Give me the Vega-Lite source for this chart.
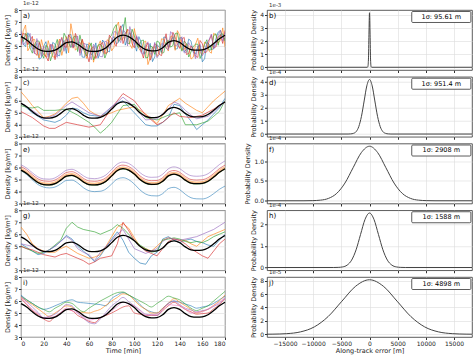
{
"$schema": "https://vega.github.io/schema/vega-lite/v6.json",
"padding": {"left": 4, "top": 0, "right": 2, "bottom": 0},
"config": {
  "font": "DejaVu Sans",
  "view": {"stroke": "#333", "strokeWidth": 0.8},
  "axis": {"labelFontSize": 6, "titleFontSize": 6.5, "titleFontWeight": "normal", "grid": true, "gridColor": "#dcdcdc", "gridWidth": 0.6, "domain": false, "tickColor": "#333", "tickSize": 2.5, "labelColor": "#222", "titleColor": "#222", "labelPadding": 1, "titlePadding": 1},
  "axisY": {"titlePadding": 3},
  "title": {"fontSize": 5.5, "fontWeight": "normal", "anchor": "start", "frame": "group", "offset": 1, "dx": 2, "color": "#333"}
},
"datasets": {
"blk": [{"t":0,"v":5.78},{"t":5,"v":5.5},{"t":10,"v":5.1},{"t":15,"v":4.75},{"t":20,"v":4.58},{"t":25,"v":4.55},{"t":30,"v":4.65},{"t":35,"v":4.95},{"t":40,"v":5.28},{"t":45,"v":5.35},{"t":50,"v":5.15},{"t":55,"v":4.8},{"t":60,"v":4.58},{"t":65,"v":4.55},{"t":70,"v":4.62},{"t":75,"v":4.85},{"t":80,"v":5.3},{"t":85,"v":5.75},{"t":90,"v":5.9},{"t":95,"v":5.78},{"t":100,"v":5.45},{"t":105,"v":5.0},{"t":110,"v":4.7},{"t":115,"v":4.6},{"t":120,"v":4.62},{"t":125,"v":4.85},{"t":130,"v":5.3},{"t":135,"v":5.45},{"t":140,"v":5.3},{"t":145,"v":4.95},{"t":150,"v":4.7},{"t":155,"v":4.65},{"t":160,"v":4.68},{"t":165,"v":4.85},{"t":170,"v":5.2},{"t":175,"v":5.6},{"t":180,"v":5.9}],
"a": [
{"t":0,"B":6.08,"O":5.38,"G":5.88,"R":5.08,"P":6.28},
{"t":4,"B":4.95,"O":6.75,"G":6.05,"R":5.95,"P":5.35},
{"t":8,"B":5.75,"O":4.95,"G":4.85,"R":5.45,"P":6.05},
{"t":12,"B":4.75,"O":5.55,"G":5.15,"R":4.45,"P":4.35},
{"t":16,"B":3.90,"O":4.00,"G":5.40,"R":5.30,"P":4.80},
{"t":20,"B":4.98,"O":4.78,"G":3.98,"R":4.28,"P":4.98},
{"t":24,"B":4.25,"O":5.45,"G":4.85,"R":3.75,"P":4.05},
{"t":28,"B":5.30,"O":4.10,"G":4.40,"R":5.10,"P":4.80},
{"t":32,"B":4.25,"O":5.05,"G":5.55,"R":4.65,"P":4.05},
{"t":36,"B":5.12,"O":4.22,"G":4.72,"R":5.72,"P":5.62},
{"t":40,"B":4.38,"O":5.78,"G":5.68,"R":4.88,"P":5.58},
{"t":44,"B":5.96,"O":6.86,"G":4.86,"R":5.66,"P":4.96},
{"t":48,"B":5.05,"O":4.65,"G":5.85,"R":6.05,"P":5.35},
{"t":52,"B":5.30,"O":5.10,"G":5.90,"R":4.40,"P":4.20},
{"t":56,"B":4.05,"O":4.45,"G":4.55,"R":4.95,"P":5.25},
{"t":60,"B":5.08,"O":5.28,"G":4.88,"R":3.68,"P":4.38},
{"t":64,"B":4.45,"O":3.65,"G":3.85,"R":4.95,"P":5.15},
{"t":68,"B":3.98,"O":4.98,"G":5.08,"R":4.38,"P":4.28},
{"t":72,"B":5.50,"O":4.50,"G":4.90,"R":5.30,"P":4.10},
{"t":76,"B":4.62,"O":5.52,"G":4.52,"R":4.42,"P":5.32},
{"t":80,"B":5.50,"O":4.60,"G":5.90,"R":5.60,"P":5.20},
{"t":84,"B":5.18,"O":6.58,"G":6.78,"R":4.98,"P":6.18},
{"t":88,"B":6.48,"O":5.48,"G":5.58,"R":6.68,"P":5.28},
{"t":92,"B":5.07,"O":6.07,"G":7.37,"R":5.77,"P":6.17},
{"t":96,"B":6.12,"O":5.12,"G":5.22,"R":6.22,"P":6.62},
{"t":100,"B":5.25,"O":6.45,"G":5.85,"R":4.85,"P":5.05},
{"t":104,"B":5.78,"O":4.78,"G":4.88,"R":5.28,"P":5.28},
{"t":108,"B":4.40,"O":5.30,"G":5.50,"R":4.00,"P":4.30},
{"t":112,"B":4.75,"O":3.45,"G":4.05,"R":5.25,"P":5.35},
{"t":116,"B":3.70,"O":4.90,"G":4.90,"R":4.30,"P":4.40},
{"t":120,"B":5.12,"O":4.12,"G":5.42,"R":5.02,"P":4.02},
{"t":124,"B":4.50,"O":5.60,"G":4.40,"R":4.20,"P":5.20},
{"t":128,"B":5.72,"O":4.92,"G":5.32,"R":6.02,"P":4.82},
{"t":132,"B":5.30,"O":5.80,"G":4.90,"R":5.20,"P":6.20},
{"t":136,"B":4.74,"O":4.64,"G":6.04,"R":5.74,"P":5.04},
{"t":140,"B":5.70,"O":5.90,"G":5.20,"R":4.80,"P":5.50},
{"t":144,"B":4.52,"O":4.72,"G":5.42,"R":5.72,"P":4.42},
{"t":148,"B":5.58,"O":4.98,"G":4.08,"R":4.38,"P":5.28},
{"t":152,"B":4.47,"O":4.07,"G":4.97,"R":4.77,"P":4.57},
{"t":156,"B":4.95,"O":5.65,"G":5.15,"R":4.05,"P":4.95},
{"t":160,"B":3.68,"O":4.28,"G":4.48,"R":5.18,"P":4.18},
{"t":164,"B":5.32,"O":5.12,"G":5.52,"R":4.52,"P":5.22},
{"t":168,"B":4.70,"O":4.40,"G":4.70,"R":5.90,"P":6.00},
{"t":172,"B":5.62,"O":5.92,"G":6.02,"R":4.92,"P":5.12},
{"t":176,"B":6.30,"O":5.50,"G":6.00,"R":5.90,"P":6.30},
{"t":180,"B":5.60,"O":4.90,"G":5.40,"R":6.30,"P":6.10},
{"t":2,"B":5.17,"O":6.27,"G":5.37,"R":6.07,"P":5.07},
{"t":6,"B":6.10,"O":4.60,"G":5.80,"R":5.10,"P":5.70},
{"t":10,"B":4.80,"O":5.50,"G":4.40,"R":5.80,"P":4.70},
{"t":14,"B":5.22,"O":4.52,"G":5.42,"R":4.22,"P":5.62},
{"t":18,"B":4.03,"O":5.53,"G":4.43,"R":4.83,"P":4.13},
{"t":22,"B":5.36,"O":4.06,"G":5.06,"R":4.16,"P":4.76},
{"t":26,"B":4.37,"O":4.77,"G":3.77,"R":5.07,"P":5.17},
{"t":30,"B":5.16,"O":4.06,"G":4.96,"R":3.86,"P":4.36},
{"t":34,"B":4.18,"O":5.58,"G":4.48,"R":5.18,"P":5.38},
{"t":38,"B":5.46,"O":4.96,"G":6.06,"R":4.96,"P":4.56},
{"t":42,"B":5.93,"O":4.43,"G":5.23,"R":5.93,"P":5.53},
{"t":46,"B":4.92,"O":5.82,"G":5.72,"R":4.82,"P":4.92},
{"t":50,"B":5.34,"O":4.84,"G":4.54,"R":5.54,"P":5.84},
{"t":54,"B":4.08,"O":5.48,"G":5.08,"R":5.58,"P":4.68},
{"t":58,"B":5.16,"O":3.96,"G":4.16,"R":4.36,"P":5.06},
{"t":62,"B":4.26,"O":4.96,"G":5.26,"R":4.76,"P":3.86},
{"t":66,"B":5.26,"O":4.46,"G":4.26,"R":3.96,"P":4.86},
{"t":70,"B":4.53,"O":5.43,"G":5.13,"R":5.13,"P":4.13},
{"t":74,"B":5.20,"O":4.30,"G":4.00,"R":4.40,"P":5.40},
{"t":78,"B":4.50,"O":5.40,"G":5.70,"R":5.90,"P":4.80},
{"t":82,"B":5.79,"O":4.89,"G":6.49,"R":5.29,"P":6.19},
{"t":86,"B":5.30,"O":7.00,"G":5.40,"R":6.10,"P":5.60},
{"t":90,"B":6.80,"O":5.60,"G":6.20,"R":5.20,"P":6.30},
{"t":94,"B":5.61,"O":6.31,"G":5.21,"R":6.41,"P":5.01},
{"t":98,"B":5.70,"O":4.80,"G":6.40,"R":5.20,"P":5.90},
{"t":102,"B":4.57,"O":5.47,"G":5.07,"R":5.77,"P":5.87},
{"t":106,"B":5.33,"O":4.53,"G":5.43,"R":4.63,"P":4.43},
{"t":110,"B":4.41,"O":5.41,"G":4.01,"R":4.91,"P":5.11},
{"t":114,"B":5.22,"O":4.02,"G":5.02,"R":3.82,"P":4.32},
{"t":118,"B":4.10,"O":4.90,"G":4.30,"R":5.20,"P":5.30},
{"t":122,"B":4.90,"O":4.50,"G":5.30,"R":4.30,"P":4.30},
{"t":126,"B":5.75,"O":5.55,"G":4.45,"R":5.25,"P":5.15},
{"t":130,"B":4.88,"O":4.58,"G":5.48,"R":4.78,"P":4.68},
{"t":134,"B":5.74,"O":5.84,"G":5.04,"R":6.14,"P":5.94},
{"t":138,"B":4.78,"O":6.28,"G":6.08,"R":5.18,"P":5.08},
{"t":142,"B":5.67,"O":4.67,"G":4.57,"R":5.57,"P":5.77},
{"t":146,"B":4.69,"O":5.19,"G":5.19,"R":4.29,"P":4.49},
{"t":150,"B":5.41,"O":3.91,"G":4.51,"R":5.01,"P":4.91},
{"t":154,"B":4.35,"O":5.15,"G":5.15,"R":4.15,"P":3.95},
{"t":158,"B":5.06,"O":4.46,"G":3.96,"R":5.46,"P":5.16},
{"t":162,"B":3.94,"O":5.34,"G":5.14,"R":4.44,"P":4.54},
{"t":166,"B":5.15,"O":4.55,"G":4.65,"R":5.45,"P":5.55},
{"t":170,"B":4.76,"O":6.06,"G":5.86,"R":4.86,"P":4.76},
{"t":174,"B":6.16,"O":5.26,"G":5.06,"R":5.76,"P":5.86},
{"t":178,"B":5.71,"O":6.51,"G":6.01,"R":5.21,"P":5.41}],
"c": [
{"t":0,"B":5.8,"O":6.75,"G":5.6,"R":5.1,"P":5.8},
{"t":5,"B":5.4,"O":6.2,"G":5.45,"R":4.85,"P":5.5},
{"t":10,"B":5.0,"O":5.6,"G":5.4,"R":4.6,"P":5.2},
{"t":15,"B":4.7,"O":5.1,"G":5.5,"R":4.25,"P":4.85},
{"t":20,"B":4.4,"O":4.6,"G":5.2,"R":3.9,"P":4.5},
{"t":25,"B":4.3,"O":4.7,"G":5.2,"R":3.7,"P":4.65},
{"t":30,"B":4.2,"O":4.9,"G":5.2,"R":3.7,"P":4.8},
{"t":35,"B":4.4,"O":5.3,"G":5.25,"R":3.95,"P":5.2},
{"t":40,"B":4.8,"O":5.8,"G":5.3,"R":4.2,"P":5.6},
{"t":45,"B":5.4,"O":6.2,"G":5.05,"R":4.1,"P":5.9},
{"t":50,"B":5.3,"O":6.3,"G":4.8,"R":4.0,"P":5.6},
{"t":55,"B":5.0,"O":5.8,"G":4.5,"R":3.9,"P":5.3},
{"t":60,"B":4.8,"O":5.2,"G":4.2,"R":3.8,"P":5.0},
{"t":65,"B":4.75,"O":4.9,"G":3.8,"R":3.9,"P":4.85},
{"t":70,"B":4.7,"O":4.7,"G":3.3,"R":4.0,"P":4.7},
{"t":75,"B":5.0,"O":4.85,"G":3.7,"R":4.7,"P":5.1},
{"t":80,"B":5.5,"O":5.0,"G":4.2,"R":5.4,"P":5.5},
{"t":85,"B":5.8,"O":5.2,"G":4.9,"R":6.0,"P":5.9},
{"t":90,"B":6.0,"O":5.3,"G":5.6,"R":6.6,"P":6.3},
{"t":95,"B":5.5,"O":5.4,"G":5.65,"R":6.3,"P":5.9},
{"t":100,"B":5.0,"O":5.5,"G":5.7,"R":6.0,"P":5.5},
{"t":105,"B":4.5,"O":5.2,"G":5.1,"R":5.4,"P":4.95},
{"t":110,"B":4.0,"O":4.9,"G":4.6,"R":4.8,"P":4.4},
{"t":115,"B":3.9,"O":4.5,"G":4.5,"R":4.4,"P":4.45},
{"t":120,"B":3.9,"O":4.1,"G":4.4,"R":4.0,"P":4.5},
{"t":125,"B":4.2,"O":4.8,"G":4.6,"R":4.2,"P":4.9},
{"t":130,"B":4.6,"O":5.6,"G":4.8,"R":4.6,"P":5.3},
{"t":135,"B":5.7,"O":5.9,"G":4.9,"R":5.0,"P":5.9},
{"t":140,"B":5.6,"O":6.2,"G":5.0,"R":4.7,"P":5.7},
{"t":145,"B":4.9,"O":5.8,"G":4.0,"R":4.65,"P":5.2},
{"t":150,"B":4.3,"O":5.5,"G":4.0,"R":4.6,"P":4.8},
{"t":155,"B":3.6,"O":5.2,"G":4.0,"R":4.7,"P":4.5},
{"t":160,"B":4.0,"O":5.0,"G":4.15,"R":4.8,"P":4.6},
{"t":165,"B":4.4,"O":5.5,"G":4.3,"R":5.05,"P":4.7},
{"t":170,"B":4.9,"O":6.0,"G":4.7,"R":5.3,"P":5.1},
{"t":175,"B":5.4,"O":6.4,"G":5.1,"R":5.6,"P":5.5},
{"t":180,"B":6.2,"O":6.8,"G":6.0,"R":5.9,"P":5.9}],
"e": [
{"t":0,"B":5.73,"O":5.86,"G":5.75,"R":6.08,"P":6.23},
{"t":5,"B":5.41,"O":5.58,"G":5.47,"R":5.80,"P":5.95},
{"t":10,"B":4.97,"O":5.18,"G":5.07,"R":5.40,"P":5.56},
{"t":15,"B":4.58,"O":4.83,"G":4.72,"R":5.05,"P":5.21},
{"t":20,"B":4.37,"O":4.66,"G":4.55,"R":4.88,"P":5.05},
{"t":25,"B":4.30,"O":4.63,"G":4.52,"R":4.85,"P":5.03},
{"t":30,"B":4.37,"O":4.73,"G":4.62,"R":4.95,"P":5.13},
{"t":35,"B":4.63,"O":5.03,"G":4.92,"R":5.25,"P":5.44},
{"t":40,"B":4.92,"O":5.36,"G":5.25,"R":5.58,"P":5.77},
{"t":45,"B":4.95,"O":5.43,"G":5.32,"R":5.65,"P":5.85},
{"t":50,"B":4.71,"O":5.23,"G":5.12,"R":5.45,"P":5.65},
{"t":55,"B":4.32,"O":4.88,"G":4.77,"R":5.10,"P":5.31},
{"t":60,"B":4.06,"O":4.66,"G":4.55,"R":4.88,"P":5.10},
{"t":65,"B":3.99,"O":4.63,"G":4.52,"R":4.85,"P":5.07},
{"t":70,"B":4.02,"O":4.70,"G":4.59,"R":4.92,"P":5.15},
{"t":75,"B":4.21,"O":4.93,"G":4.82,"R":5.15,"P":5.38},
{"t":80,"B":4.63,"O":5.38,"G":5.27,"R":5.60,"P":5.84},
{"t":85,"B":5.04,"O":5.83,"G":5.72,"R":6.05,"P":6.29},
{"t":90,"B":5.15,"O":5.98,"G":5.87,"R":6.20,"P":6.45},
{"t":95,"B":4.99,"O":5.86,"G":5.75,"R":6.08,"P":6.34},
{"t":100,"B":4.62,"O":5.53,"G":5.42,"R":5.75,"P":6.01},
{"t":105,"B":4.13,"O":5.08,"G":4.97,"R":5.30,"P":5.57},
{"t":110,"B":3.79,"O":4.78,"G":4.67,"R":5.00,"P":5.27},
{"t":115,"B":3.65,"O":4.68,"G":4.57,"R":4.90,"P":5.18},
{"t":120,"B":3.63,"O":4.70,"G":4.59,"R":4.92,"P":5.20},
{"t":125,"B":3.82,"O":4.93,"G":4.82,"R":5.15,"P":5.44},
{"t":130,"B":4.24,"O":5.38,"G":5.27,"R":5.60,"P":5.89},
{"t":135,"B":4.35,"O":5.53,"G":5.42,"R":5.75,"P":6.05},
{"t":140,"B":4.16,"O":5.38,"G":5.27,"R":5.60,"P":5.91},
{"t":145,"B":3.77,"O":5.03,"G":4.92,"R":5.25,"P":5.56},
{"t":150,"B":3.48,"O":4.78,"G":4.67,"R":5.00,"P":5.32},
{"t":155,"B":3.39,"O":4.73,"G":4.62,"R":4.95,"P":5.27},
{"t":160,"B":3.38,"O":4.76,"G":4.65,"R":4.98,"P":5.31},
{"t":165,"B":3.51,"O":4.93,"G":4.82,"R":5.15,"P":5.48},
{"t":170,"B":3.82,"O":5.28,"G":5.17,"R":5.50,"P":5.84},
{"t":175,"B":4.18,"O":5.68,"G":5.57,"R":5.90,"P":6.24},
{"t":180,"B":4.45,"O":5.98,"G":5.87,"R":6.20,"P":6.55}],
"g": [
{"t":0,"B":5.2,"O":6.6,"G":5.0,"R":5.0,"P":5.2},
{"t":5,"B":4.9,"O":6.0,"G":4.8,"R":4.8,"P":5.1},
{"t":10,"B":4.6,"O":5.2,"G":4.6,"R":4.7,"P":5.0},
{"t":15,"B":4.3,"O":4.8,"G":4.4,"R":4.5,"P":4.8},
{"t":20,"B":4.4,"O":4.6,"G":4.5,"R":4.3,"P":4.5},
{"t":25,"B":4.7,"O":4.5,"G":4.7,"R":4.2,"P":4.7},
{"t":30,"B":5.0,"O":4.5,"G":5.1,"R":4.1,"P":5.0},
{"t":35,"B":5.4,"O":4.8,"G":5.5,"R":4.3,"P":5.4},
{"t":40,"B":5.9,"O":5.0,"G":6.5,"R":4.4,"P":5.8},
{"t":45,"B":5.6,"O":4.7,"G":7.0,"R":4.2,"P":5.5},
{"t":50,"B":5.0,"O":4.4,"G":6.6,"R":4.0,"P":4.8},
{"t":55,"B":4.6,"O":4.2,"G":6.4,"R":3.8,"P":4.5},
{"t":60,"B":4.2,"O":4.0,"G":6.3,"R":3.5,"P":4.3},
{"t":65,"B":3.7,"O":4.1,"G":6.2,"R":3.7,"P":3.8},
{"t":70,"B":4.2,"O":4.3,"G":6.0,"R":4.0,"P":4.5},
{"t":75,"B":4.9,"O":5.0,"G":6.2,"R":4.1,"P":5.0},
{"t":80,"B":5.6,"O":5.8,"G":6.4,"R":4.2,"P":5.5},
{"t":85,"B":6.2,"O":6.6,"G":6.8,"R":5.2,"P":6.0},
{"t":90,"B":5.5,"O":6.9,"G":6.5,"R":7.0,"P":6.4},
{"t":95,"B":4.5,"O":6.5,"G":6.0,"R":6.3,"P":5.6},
{"t":100,"B":4.0,"O":5.7,"G":5.5,"R":5.5,"P":4.8},
{"t":105,"B":3.6,"O":5.0,"G":5.1,"R":5.0,"P":4.6},
{"t":110,"B":3.5,"O":4.8,"G":4.8,"R":4.6,"P":4.4},
{"t":115,"B":4.2,"O":4.6,"G":4.5,"R":4.4,"P":4.6},
{"t":120,"B":4.5,"O":5.0,"G":4.6,"R":4.2,"P":4.8},
{"t":125,"B":5.6,"O":5.5,"G":5.5,"R":4.8,"P":5.4},
{"t":130,"B":5.8,"O":5.7,"G":5.6,"R":5.4,"P":5.7},
{"t":135,"B":5.5,"O":5.6,"G":5.7,"R":5.6,"P":5.6},
{"t":140,"B":5.3,"O":5.5,"G":5.6,"R":5.5,"P":5.5},
{"t":145,"B":5.5,"O":5.5,"G":5.4,"R":5.2,"P":5.6},
{"t":150,"B":5.6,"O":5.2,"G":5.3,"R":4.8,"P":5.7},
{"t":155,"B":5.4,"O":5.0,"G":5.4,"R":4.5,"P":5.8},
{"t":160,"B":5.3,"O":5.4,"G":5.3,"R":4.2,"P":6.0},
{"t":165,"B":5.1,"O":5.8,"G":5.5,"R":4.0,"P":6.2},
{"t":170,"B":5.0,"O":6.0,"G":5.8,"R":4.6,"P":6.4},
{"t":175,"B":5.5,"O":6.2,"G":6.0,"R":5.2,"P":6.7},
{"t":180,"B":6.0,"O":6.4,"G":6.2,"R":5.6,"P":7.0}],
"i": [
{"t":0,"B":6.5,"O":6.3,"G":6.4,"R":6.2,"P":6.4,"K":6.3},
{"t":5,"B":6.1,"O":6.0,"G":6.1,"R":5.7,"P":5.95,"K":5.8},
{"t":10,"B":5.8,"O":5.7,"G":5.8,"R":5.2,"P":5.5,"K":5.3},
{"t":15,"B":5.5,"O":5.35,"G":5.5,"R":4.85,"P":5.05,"K":4.95},
{"t":20,"B":5.3,"O":5.0,"G":5.3,"R":4.5,"P":4.6,"K":4.6},
{"t":25,"B":5.4,"O":4.7,"G":5.1,"R":4.3,"P":4.75,"K":4.65},
{"t":30,"B":5.6,"O":5.0,"G":5.4,"R":4.7,"P":4.9,"K":4.7},
{"t":35,"B":5.8,"O":5.3,"G":5.65,"R":5.0,"P":5.3,"K":5.05},
{"t":40,"B":6.0,"O":5.6,"G":5.9,"R":5.3,"P":5.7,"K":5.4},
{"t":45,"B":6.1,"O":5.5,"G":5.8,"R":5.2,"P":5.6,"K":5.2},
{"t":50,"B":5.9,"O":5.1,"G":5.4,"R":4.8,"P":5.0,"K":5.0},
{"t":55,"B":5.85,"O":5.05,"G":5.1,"R":4.55,"P":4.6,"K":4.7},
{"t":60,"B":5.8,"O":5.0,"G":5.4,"R":4.3,"P":4.2,"K":4.4},
{"t":65,"B":5.75,"O":5.15,"G":5.7,"R":4.2,"P":4.1,"K":4.5},
{"t":70,"B":5.7,"O":5.3,"G":6.0,"R":4.6,"P":4.5,"K":4.6},
{"t":75,"B":5.6,"O":5.65,"G":6.25,"R":4.8,"P":5.05,"K":4.9},
{"t":80,"B":6.2,"O":6.0,"G":6.5,"R":5.0,"P":5.6,"K":5.2},
{"t":85,"B":6.5,"O":6.3,"G":6.7,"R":5.25,"P":5.95,"K":5.55},
{"t":90,"B":6.7,"O":6.6,"G":6.75,"R":5.5,"P":6.3,"K":5.9},
{"t":95,"B":6.5,"O":6.5,"G":6.5,"R":5.6,"P":5.95,"K":5.75},
{"t":100,"B":6.2,"O":6.05,"G":6.25,"R":5.0,"P":5.6,"K":5.6},
{"t":105,"B":5.7,"O":5.6,"G":6.0,"R":4.9,"P":5.25,"K":5.2},
{"t":110,"B":5.3,"O":5.3,"G":5.75,"R":4.8,"P":4.9,"K":4.8},
{"t":115,"B":5.1,"O":5.0,"G":5.5,"R":4.8,"P":4.85,"K":4.85},
{"t":120,"B":5.0,"O":5.0,"G":5.8,"R":4.8,"P":4.8,"K":4.9},
{"t":125,"B":5.4,"O":5.4,"G":6.1,"R":5.2,"P":5.3,"K":5.3},
{"t":130,"B":5.8,"O":5.8,"G":6.4,"R":5.6,"P":5.8,"K":5.7},
{"t":135,"B":6.0,"O":6.2,"G":6.25,"R":5.9,"P":6.0,"K":5.65},
{"t":140,"B":5.9,"O":5.9,"G":6.1,"R":5.6,"P":5.7,"K":5.6},
{"t":145,"B":5.75,"O":5.6,"G":5.75,"R":5.3,"P":5.4,"K":5.3},
{"t":150,"B":5.6,"O":5.3,"G":5.4,"R":5.1,"P":5.25,"K":5.0},
{"t":155,"B":5.4,"O":5.0,"G":5.2,"R":4.9,"P":5.1,"K":5.05},
{"t":160,"B":5.5,"O":5.15,"G":5.4,"R":4.95,"P":5.2,"K":5.1},
{"t":165,"B":5.6,"O":5.3,"G":5.6,"R":5.0,"P":5.3,"K":5.35},
{"t":170,"B":5.8,"O":5.65,"G":6.0,"R":5.35,"P":5.55,"K":5.6},
{"t":175,"B":6.1,"O":6.0,"G":6.4,"R":5.7,"P":5.8,"K":5.9},
{"t":180,"B":6.4,"O":6.5,"G":6.8,"R":6.2,"P":6.3,"K":6.2}],
"pb": [{"x":-18200,"y":0},{"x":-382,"y":0},{"x":-287,"y":0.05},{"x":-191,"y":0.56},{"x":-96,"y":2.53},{"x":0,"y":4.17},{"x":96,"y":2.53},{"x":191,"y":0.56},{"x":287,"y":0.05},{"x":382,"y":0},{"x":18200,"y":0}],
"pd": [{"x":-18200,"y":0},{"x":-3806,"y":0},{"x":-3330,"y":0.01},{"x":-2854,"y":0.05},{"x":-2379,"y":0.18},{"x":-1903,"y":0.57},{"x":-1427,"y":1.36},{"x":-951,"y":2.54},{"x":-476,"y":3.70},{"x":0,"y":4.19},{"x":476,"y":3.70},{"x":951,"y":2.54},{"x":1427,"y":1.36},{"x":1903,"y":0.57},{"x":2379,"y":0.18},{"x":2854,"y":0.05},{"x":3330,"y":0.01},{"x":3806,"y":0},{"x":18200,"y":0}],
"pf": [{"x":-18200,"y":0},{"x":-11632,"y":0},{"x":-10178,"y":0.003},{"x":-8724,"y":0.015},{"x":-7270,"y":0.06},{"x":-5816,"y":0.186},{"x":-4362,"y":0.445},{"x":-2908,"y":0.832},{"x":-1454,"y":1.211},{"x":0,"y":1.372},{"x":1454,"y":1.211},{"x":2908,"y":0.832},{"x":4362,"y":0.445},{"x":5816,"y":0.186},{"x":7270,"y":0.06},{"x":8724,"y":0.015},{"x":10178,"y":0.003},{"x":11632,"y":0},{"x":18200,"y":0}],
"ph": [{"x":-18200,"y":0},{"x":-6352,"y":0.001},{"x":-5558,"y":0.006},{"x":-4764,"y":0.028},{"x":-3970,"y":0.11},{"x":-3176,"y":0.34},{"x":-2382,"y":0.815},{"x":-1588,"y":1.522},{"x":-794,"y":2.215},{"x":0,"y":2.51},{"x":794,"y":2.215},{"x":1588,"y":1.522},{"x":2382,"y":0.815},{"x":3176,"y":0.34},{"x":3970,"y":0.11},{"x":4764,"y":0.028},{"x":5558,"y":0.006},{"x":6352,"y":0.001},{"x":18200,"y":0}],
"pj": [{"x":-18200,"y":0.008},{"x":-17143,"y":0.018},{"x":-14694,"y":0.09},{"x":-12245,"y":0.357},{"x":-9796,"y":1.10},{"x":-7347,"y":2.64},{"x":-4898,"y":4.94},{"x":-2449,"y":7.18},{"x":0,"y":8.14},{"x":2449,"y":7.18},{"x":4898,"y":4.94},{"x":7347,"y":2.64},{"x":9796,"y":1.10},{"x":12245,"y":0.357},{"x":14694,"y":0.09},{"x":17143,"y":0.018},{"x":18200,"y":0.008}]
},
"bounds": "flush",
"columns": 2,
"spacing": {"row": 6.75, "column": 42},
"concat": [
{"width": 204, "height": 60, "title": "1e-12", "data": {"name": "blk"},
 "encoding": {"x": {"field": "t", "type": "quantitative", "scale": {"domain": [0,180], "nice": false}, "axis": {"values": [0,20,40,60,80,100,120,140,160,180], "labels": false, "title": null}},
  "y": {"field": "v", "type": "quantitative", "scale": {"domain": [3,8], "nice": false, "zero": false}, "axis": {"values": [3,4,5,6,7,8], "format": "d", "title": "Density [kg/m³]"}}},
 "layer": [
  {"data": {"name": "a"}, "transform": [{"fold": ["B","O","G","R","P"], "as": ["s","v"]}], "mark": {"type": "line", "strokeWidth": 0.8, "opacity": 0.8, "clip": true},
   "encoding": {"color": {"field": "s", "type": "nominal", "scale": {"domain": ["B","O","G","R","P","K"], "range": ["#1f77b4","#ff7f0e","#2ca02c","#d62728","#9467bd","#e377c2"]}, "legend": null}}},
  {"mark": {"type": "line", "color": "black", "strokeWidth": 1.3, "interpolate": "monotone"}},
  {"transform": [{"filter": "datum.t == 0"}], "mark": {"type": "text", "text": "a)", "align": "left", "baseline": "top", "dx": 2, "dy": 2, "fontSize": 7}, "encoding": {"y": {"datum": 8}}}
 ]},
{"width": 205, "height": 60, "title": "1e-3", "data": {"name": "pb"},
 "encoding": {"x": {"field": "x", "type": "quantitative", "scale": {"domain": [-18200,18200], "nice": false, "zero": false}, "axis": {"values": [-15000,-10000,-5000,0,5000,10000,15000], "labels": false, "title": null, "format": "d"}},
  "y": {"field": "y", "type": "quantitative", "scale": {"domain": [-0.21,4.38], "nice": false, "zero": false}, "axis": {"values": [0,1,2,3,4], "format": "d", "title": "Probability Density"}}},
 "layer": [
  {"mark": {"type": "line", "color": "#444", "strokeWidth": 1, "interpolate": "monotone"}},
  {"transform": [{"filter": "datum.x == 0"}], "mark": {"type": "rect", "fill": "white", "stroke": "#333", "strokeWidth": 0.8, "cornerRadius": 1}, "encoding": {"x": {"datum": 7500}, "x2": {"datum": 18000}, "y": {"datum": 4.265}, "y2": {"datum": 3.424}}},
  {"transform": [{"filter": "datum.x == 0"}], "mark": {"type": "text", "text": "1σ: 95.61 m", "fontSize": 6.5}, "encoding": {"x": {"datum": 12750}, "y": {"datum": 3.845}}},
  {"transform": [{"filter": "datum.x == 0"}], "mark": {"type": "text", "text": "b)", "align": "left", "baseline": "top", "dx": 2, "dy": 2, "fontSize": 7}, "encoding": {"x": {"datum": -18200}, "y": {"datum": 4.38}}}
 ]},
{"width": 204, "height": 60, "title": "1e-12", "data": {"name": "blk"},
 "encoding": {"x": {"field": "t", "type": "quantitative", "scale": {"domain": [0,180], "nice": false}, "axis": {"values": [0,20,40,60,80,100,120,140,160,180], "labels": false, "title": null}},
  "y": {"field": "v", "type": "quantitative", "scale": {"domain": [3,8], "nice": false, "zero": false}, "axis": {"values": [3,4,5,6,7,8], "format": "d", "title": "Density [kg/m³]"}}},
 "layer": [
  {"data": {"name": "c"}, "transform": [{"fold": ["B","O","G","R","P"], "as": ["s","v"]}], "mark": {"type": "line", "strokeWidth": 0.8, "opacity": 0.8, "clip": true},
   "encoding": {"color": {"field": "s", "type": "nominal", "scale": {"domain": ["B","O","G","R","P","K"], "range": ["#1f77b4","#ff7f0e","#2ca02c","#d62728","#9467bd","#e377c2"]}, "legend": null}}},
  {"mark": {"type": "line", "color": "black", "strokeWidth": 1.3, "interpolate": "monotone"}},
  {"transform": [{"filter": "datum.t == 0"}], "mark": {"type": "text", "text": "c)", "align": "left", "baseline": "top", "dx": 2, "dy": 2, "fontSize": 7}, "encoding": {"y": {"datum": 8}}}
 ]},
{"width": 205, "height": 60, "title": "1e-4", "data": {"name": "pd"},
 "encoding": {"x": {"field": "x", "type": "quantitative", "scale": {"domain": [-18200,18200], "nice": false, "zero": false}, "axis": {"values": [-15000,-10000,-5000,0,5000,10000,15000], "labels": false, "title": null, "format": "d"}},
  "y": {"field": "y", "type": "quantitative", "scale": {"domain": [-0.21,4.40], "nice": false, "zero": false}, "axis": {"values": [0,1,2,3,4], "format": "d", "title": "Probability Density"}}},
 "layer": [
  {"mark": {"type": "line", "color": "#444", "strokeWidth": 1, "interpolate": "monotone"}},
  {"transform": [{"filter": "datum.x == 0"}], "mark": {"type": "rect", "fill": "white", "stroke": "#333", "strokeWidth": 0.8, "cornerRadius": 1}, "encoding": {"x": {"datum": 7500}, "x2": {"datum": 18000}, "y": {"datum": 4.285}, "y2": {"datum": 3.44}}},
  {"transform": [{"filter": "datum.x == 0"}], "mark": {"type": "text", "text": "1σ: 951.4 m", "fontSize": 6.5}, "encoding": {"x": {"datum": 12750}, "y": {"datum": 3.862}}},
  {"transform": [{"filter": "datum.x == 0"}], "mark": {"type": "text", "text": "d)", "align": "left", "baseline": "top", "dx": 2, "dy": 2, "fontSize": 7}, "encoding": {"x": {"datum": -18200}, "y": {"datum": 4.40}}}
 ]},
{"width": 204, "height": 60, "title": "1e-12", "data": {"name": "blk"},
 "encoding": {"x": {"field": "t", "type": "quantitative", "scale": {"domain": [0,180], "nice": false}, "axis": {"values": [0,20,40,60,80,100,120,140,160,180], "labels": false, "title": null}},
  "y": {"field": "v", "type": "quantitative", "scale": {"domain": [3,8], "nice": false, "zero": false}, "axis": {"values": [3,4,5,6,7,8], "format": "d", "title": "Density [kg/m³]"}}},
 "layer": [
  {"data": {"name": "e"}, "transform": [{"fold": ["B","G","R","P"], "as": ["s","v"]}], "mark": {"type": "line", "strokeWidth": 0.8, "opacity": 0.7, "clip": true, "interpolate": "monotone"},
   "encoding": {"color": {"field": "s", "type": "nominal", "scale": {"domain": ["B","O","G","R","P","K"], "range": ["#1f77b4","#ff7f0e","#2ca02c","#d62728","#9467bd","#e377c2"]}, "legend": null}}},
  {"data": {"name": "e"}, "transform": [{"fold": ["O"], "as": ["s","v"]}], "mark": {"type": "line", "strokeWidth": 2.6, "opacity": 0.45, "clip": true, "interpolate": "monotone", "color": "#ff7f0e"}},
  {"mark": {"type": "line", "color": "black", "strokeWidth": 1.3, "interpolate": "monotone"}},
  {"transform": [{"filter": "datum.t == 0"}], "mark": {"type": "text", "text": "e)", "align": "left", "baseline": "top", "dx": 2, "dy": 2, "fontSize": 7}, "encoding": {"y": {"datum": 8}}}
 ]},
{"width": 205, "height": 60, "title": "1e-4", "data": {"name": "pf"},
 "encoding": {"x": {"field": "x", "type": "quantitative", "scale": {"domain": [-18200,18200], "nice": false, "zero": false}, "axis": {"values": [-15000,-10000,-5000,0,5000,10000,15000], "labels": false, "title": null, "format": "d"}},
  "y": {"field": "y", "type": "quantitative", "scale": {"domain": [-0.069,1.441], "nice": false, "zero": false}, "axis": {"values": [0,0.5,1], "format": ".1f", "title": "Probability Density"}}},
 "layer": [
  {"mark": {"type": "line", "color": "#444", "strokeWidth": 1, "interpolate": "monotone"}},
  {"transform": [{"filter": "datum.x == 0"}], "mark": {"type": "rect", "fill": "white", "stroke": "#333", "strokeWidth": 0.8, "cornerRadius": 1}, "encoding": {"x": {"datum": 7500}, "x2": {"datum": 18000}, "y": {"datum": 1.403}, "y2": {"datum": 1.126}}},
  {"transform": [{"filter": "datum.x == 0"}], "mark": {"type": "text", "text": "1σ: 2908 m", "fontSize": 6.5}, "encoding": {"x": {"datum": 12750}, "y": {"datum": 1.265}}},
  {"transform": [{"filter": "datum.x == 0"}], "mark": {"type": "text", "text": "f)", "align": "left", "baseline": "top", "dx": 2, "dy": 2, "fontSize": 7}, "encoding": {"x": {"datum": -18200}, "y": {"datum": 1.441}}}
 ]},
{"width": 204, "height": 60, "title": "1e-12", "data": {"name": "blk"},
 "encoding": {"x": {"field": "t", "type": "quantitative", "scale": {"domain": [0,180], "nice": false}, "axis": {"values": [0,20,40,60,80,100,120,140,160,180], "labels": false, "title": null}},
  "y": {"field": "v", "type": "quantitative", "scale": {"domain": [3,8], "nice": false, "zero": false}, "axis": {"values": [3,4,5,6,7,8], "format": "d", "title": "Density [kg/m³]"}}},
 "layer": [
  {"data": {"name": "g"}, "transform": [{"fold": ["B","O","G","R","P"], "as": ["s","v"]}], "mark": {"type": "line", "strokeWidth": 0.8, "opacity": 0.8, "clip": true},
   "encoding": {"color": {"field": "s", "type": "nominal", "scale": {"domain": ["B","O","G","R","P","K"], "range": ["#1f77b4","#ff7f0e","#2ca02c","#d62728","#9467bd","#e377c2"]}, "legend": null}}},
  {"mark": {"type": "line", "color": "black", "strokeWidth": 1.3, "interpolate": "monotone"}},
  {"transform": [{"filter": "datum.t == 0"}], "mark": {"type": "text", "text": "g)", "align": "left", "baseline": "top", "dx": 2, "dy": 2, "fontSize": 7}, "encoding": {"y": {"datum": 8}}}
 ]},
{"width": 205, "height": 60, "title": "1e-4", "data": {"name": "ph"},
 "encoding": {"x": {"field": "x", "type": "quantitative", "scale": {"domain": [-18200,18200], "nice": false, "zero": false}, "axis": {"values": [-15000,-10000,-5000,0,5000,10000,15000], "labels": false, "title": null, "format": "d"}},
  "y": {"field": "y", "type": "quantitative", "scale": {"domain": [-0.126,2.636], "nice": false, "zero": false}, "axis": {"values": [0,1,2], "format": "d", "title": "Probability Density"}}},
 "layer": [
  {"mark": {"type": "line", "color": "#444", "strokeWidth": 1, "interpolate": "monotone"}},
  {"transform": [{"filter": "datum.x == 0"}], "mark": {"type": "rect", "fill": "white", "stroke": "#333", "strokeWidth": 0.8, "cornerRadius": 1}, "encoding": {"x": {"datum": 7500}, "x2": {"datum": 18000}, "y": {"datum": 2.567}, "y2": {"datum": 2.06}}},
  {"transform": [{"filter": "datum.x == 0"}], "mark": {"type": "text", "text": "1σ: 1588 m", "fontSize": 6.5}, "encoding": {"x": {"datum": 12750}, "y": {"datum": 2.314}}},
  {"transform": [{"filter": "datum.x == 0"}], "mark": {"type": "text", "text": "h)", "align": "left", "baseline": "top", "dx": 2, "dy": 2, "fontSize": 7}, "encoding": {"x": {"datum": -18200}, "y": {"datum": 2.636}}}
 ]},
{"width": 204, "height": 60, "title": "1e-12", "data": {"name": "blk"},
 "encoding": {"x": {"field": "t", "type": "quantitative", "scale": {"domain": [0,180], "nice": false}, "axis": {"values": [0,20,40,60,80,100,120,140,160,180], "format": "d", "title": "Time [min]"}},
  "y": {"field": "v", "type": "quantitative", "scale": {"domain": [3,8], "nice": false, "zero": false}, "axis": {"values": [3,4,5,6,7,8], "format": "d", "title": "Density [kg/m³]"}}},
 "layer": [
  {"data": {"name": "i"}, "transform": [{"fold": ["B","O","G","R","P","K"], "as": ["s","v"]}], "mark": {"type": "line", "strokeWidth": 0.8, "opacity": 0.75, "clip": true, "interpolate": "monotone"},
   "encoding": {"color": {"field": "s", "type": "nominal", "scale": {"domain": ["B","O","G","R","P","K"], "range": ["#1f77b4","#ff7f0e","#2ca02c","#d62728","#9467bd","#e377c2"]}, "legend": null}}},
  {"mark": {"type": "line", "color": "black", "strokeWidth": 1.3, "interpolate": "monotone"}},
  {"transform": [{"filter": "datum.t == 0"}], "mark": {"type": "text", "text": "i)", "align": "left", "baseline": "top", "dx": 2, "dy": 2, "fontSize": 7}, "encoding": {"y": {"datum": 8}}}
 ]},
{"width": 205, "height": 60, "title": "1e-5", "data": {"name": "pj"},
 "encoding": {"x": {"field": "x", "type": "quantitative", "scale": {"domain": [-18200,18200], "nice": false, "zero": false}, "axis": {"values": [-15000,-10000,-5000,0,5000,10000,15000], "format": "d", "title": "Along-track error [m]"}},
  "y": {"field": "y", "type": "quantitative", "scale": {"domain": [-0.41,8.55], "nice": false, "zero": false}, "axis": {"values": [0,2,4,6,8], "format": "d", "title": "Probability Density"}}},
 "layer": [
  {"mark": {"type": "line", "color": "#444", "strokeWidth": 1, "interpolate": "monotone"}},
  {"transform": [{"filter": "datum.x == 0"}], "mark": {"type": "rect", "fill": "white", "stroke": "#333", "strokeWidth": 0.8, "cornerRadius": 1}, "encoding": {"x": {"datum": 7500}, "x2": {"datum": 18000}, "y": {"datum": 8.326}, "y2": {"datum": 6.683}}},
  {"transform": [{"filter": "datum.x == 0"}], "mark": {"type": "text", "text": "1σ: 4898 m", "fontSize": 6.5}, "encoding": {"x": {"datum": 12750}, "y": {"datum": 7.505}}},
  {"transform": [{"filter": "datum.x == 0"}], "mark": {"type": "text", "text": "j)", "align": "left", "baseline": "top", "dx": 2, "dy": 2, "fontSize": 7}, "encoding": {"x": {"datum": -18200}, "y": {"datum": 8.55}}}
 ]}
]
}
